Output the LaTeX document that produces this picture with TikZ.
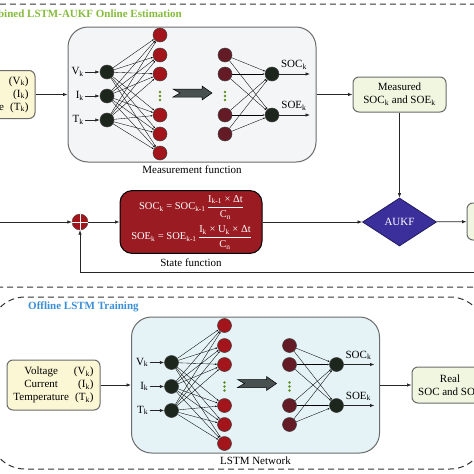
\documentclass[tikz,border=0pt]{standalone}
\usepackage{amsmath}
\usepackage{fontspec}
\setmainfont{Liberation Serif}
\usepackage{tikz}
\usetikzlibrary{arrows.meta, shapes.geometric, positioning, calc}
\usepackage{xcolor}
\definecolor{LeafGreen}{HTML}{86BC3C}
\definecolor{SkyBlue}{HTML}{3A8FD9}
\definecolor{PanelGray}{HTML}{F4F5F6}
\definecolor{PanelBlue}{HTML}{E5F3F7}
\definecolor{EdgeGray}{HTML}{6A6C6A}
\definecolor{CreamFill}{HTML}{FBF6D3}
\definecolor{MintFill}{HTML}{F0F6E0}
\definecolor{NeuronDark}{HTML}{1C261C}
\definecolor{NeuronRed}{HTML}{A3141B}
\definecolor{NeuronWine}{HTML}{641B25}
\definecolor{DotGreen}{HTML}{5E8F22}
\definecolor{StateRed}{HTML}{9A1C22}
\definecolor{AukfIndigo}{HTML}{3B2F9C}
\definecolor{ChevronGray}{HTML}{485050}
\newcommand{\BodyFont}{\fontsize{11pt}{13pt}\selectfont}
\newcommand{\TitleFont}{\bfseries\fontsize{11pt}{13pt}\selectfont}
\newcommand{\Sub}[2]{#1\textsubscript{#2}}
\newcommand{\Ratio}[2]{{\renewcommand{\arraystretch}{1.2}%
  \begin{tabular}[c]{@{}c@{}}#1\\\hline #2\end{tabular}}}

\tikzset{
  link/.style={-{Latex[length=4.5pt,width=3.5pt]}, line width=0.7pt, draw=black!85},
  wire/.style={-{Latex[length=2pt,width=1.6pt]}, line width=0.35pt},
  neuron/.style={circle, minimum size=14pt, inner sep=0pt, draw=black!75, line width=0.5pt},
  panel/.style={draw=EdgeGray, line width=1pt, rounded corners=20pt},
  infobox/.style={draw=EdgeGray, line width=1pt, rounded corners=6pt, align=center, font=\BodyFont},
  zone/.style={draw=black!80, line width=1pt, dash pattern=on 6pt off 4pt, rounded corners=35pt},
  vdot/.style={circle, fill=DotGreen, inner sep=0pt, minimum size=2.6pt}
}

% one network, #1 = name prefix, (#2,#3) = shift
\newcommand{\NetBody}[3]{%
  \begin{scope}[shift={(#2,#3)}]
    % input layer
    \foreach \y/\t [count=\i] in {72/V,96/I,120/T} {
      \node[neuron, fill=NeuronDark] (#1a\i) at (107,\y) {};
      \node[font=\BodyFont, anchor=east, inner sep=1pt] (#1t\i) at (85,\y) {\Sub{\t}{k}};
      \draw[link] (#1t\i) -- (#1a\i);
    }
    % hidden layers
    \foreach \y [count=\i] in {35,55,74,115,134,153}
      \node[neuron, fill=NeuronRed] (#1b\i) at (160,\y) {};
    \foreach \y [count=\i] in {55,74,115,134}
      \node[neuron, fill=NeuronWine] (#1c\i) at (225,\y) {};
    \foreach \x in {160,225} \foreach \y in {-4,0,4}
      \node[vdot] at (\x,96+\y) {};
    % output layer
    \foreach \y/\t [count=\i] in {74/SOC,115/SOE} {
      \node[neuron, fill=NeuronDark] (#1o\i) at (272,\y) {};
      \coordinate (#1e\i) at (310,\y);
      \node[font=\BodyFont] (#1s\i) at (294,\y-9) {\Sub{\t}{k}};
      \draw[link] (#1o\i) -- (#1e\i);
    }
    \foreach \i in {1,2,3} \foreach \j in {1,...,6}
      \draw[wire] (#1a\i) -- (#1b\j);
    \foreach \i in {1,...,4} \foreach \j in {1,2}
      \draw[wire] (#1c\i) -- (#1o\j);
    % chevron
    \filldraw[fill=ChevronGray, draw=black, line width=0.5pt]
      (173,89) -- (202,89) -- (202,86) -- (212,93) -- (202,100)
      -- (202,97) -- (173,97) -- (180,93) -- cycle;
  \end{scope}
}

\begin{document}
\begin{tikzpicture}[x=1pt, y=-1pt]
  \useasboundingbox (0,0) rectangle (474,474);
  \fill[white] (0,0) rectangle (474,474);

  % online part
  \draw[zone] (-40,4) rectangle (520,287);
  \node[font=\TitleFont, text=LeafGreen, anchor=east, inner sep=0pt] (onlinetitle) at (182,14)
    {Combined LSTM-AUKF Online Estimation};
  \node[infobox, fill=CreamFill, minimum width=93pt, minimum height=48pt] (topin) at (-11.5,94.5)
    {\begin{tabular}{@{}c@{\hspace{5pt}}r@{}}Voltage & (\Sub{V}{k})\\ Current & (\Sub{I}{k})\\ Temperature & (\Sub{T}{k})\end{tabular}};
  \node[panel, fill=PanelGray, minimum width=248pt, minimum height=135pt] (measpanel) at (192,94.5) {};
  \node[font=\BodyFont, below=0pt of measpanel] (measlbl) {Measurement function};
  \NetBody{m}{0}{0}
  \node[infobox, fill=MintFill, minimum width=93pt, minimum height=35pt] (measured) at (399.5,94.5)
    {Measured\\\Sub{SOC}{k} and \Sub{SOE}{k}};
  \draw[link] (topin) -- (measpanel);
  \draw[link] (measpanel) -- (measured);

  % state loop
  \coordinate (feedin) at (-5,222);
  \node[circle, minimum size=16pt, inner sep=0pt, fill=NeuronRed, draw=black!70] (sum) at (80,222) {};
  \draw[white, line width=0.7pt] (sum.north) -- (sum.south) (sum.west) -- (sum.east);
  \node[rounded corners=12pt, fill=StateRed, draw=black, line width=1pt, minimum width=142pt,
    minimum height=62pt, text=white, inner sep=1pt, font=\fontsize{10.5pt}{12.5pt}\selectfont] (state) at (191,222)
    {\begin{tabular}{@{}c@{}}
     \Sub{SOC}{k} = \Sub{SOC}{k-1} \Ratio{\Sub{I}{k-1} × Δt}{\Sub{C}{n}}\\
     \Sub{SOE}{k} = \Sub{SOE}{k-1} \Ratio{\Sub{I}{k} × \Sub{U}{k} × Δt}{\Sub{C}{n}}
     \end{tabular}};
  \node[font=\BodyFont, below=1pt of state] (statelbl) {State function};
  \node[diamond, fill=AukfIndigo, draw=AukfIndigo!60!black, line width=0.8pt, text=white,
    font=\BodyFont, inner sep=1pt, minimum width=74pt, minimum height=48pt] (aukf) at (399.5,222) {AUKF};
  \node[infobox, fill=MintFill, minimum width=93pt, minimum height=37pt] (estim) at (513.5,221.5) {};
  \coordinate (fbturn) at (80,272);
  \draw[link] (feedin) -- (sum);
  \draw[link] (sum) -- (state);
  \draw[link] (state) -- (aukf);
  \draw[link] (measured) -- (aukf);
  \draw[link] (aukf) -- (estim);
  \draw[link] (estim.south) |- (fbturn) -- (sum);

  % offline part
  \draw[zone] (-10,297) rectangle (485,469);
  \node[font=\TitleFont, text=SkyBlue, anchor=west, inner sep=0pt] (offlinetitle) at (28,307)
    {Offline LSTM Training};
  \node[infobox, fill=CreamFill, minimum width=93pt, minimum height=50pt] (botin) at (53.5,385)
    {\begin{tabular}{@{}c@{\hspace{5pt}}r@{}}Voltage & (\Sub{V}{k})\\ Current & (\Sub{I}{k})\\ Temperature & (\Sub{T}{k})\end{tabular}};
  \node[panel, fill=PanelBlue, minimum width=248pt, minimum height=136pt] (lstmpanel) at (255.5,385) {};
  \node[font=\BodyFont, below=0pt of lstmpanel] (lstmlbl) {LSTM Network};
  \NetBody{l}{64.5}{290.5}
  \node[infobox, fill=MintFill, minimum width=76pt, minimum height=36pt] (real) at (450,385)
    {Real\\SOC and SOE};
  \draw[link] (botin) -- (lstmpanel);
  \draw[link] (lstmpanel) -- (real);
\end{tikzpicture}
\end{document}
